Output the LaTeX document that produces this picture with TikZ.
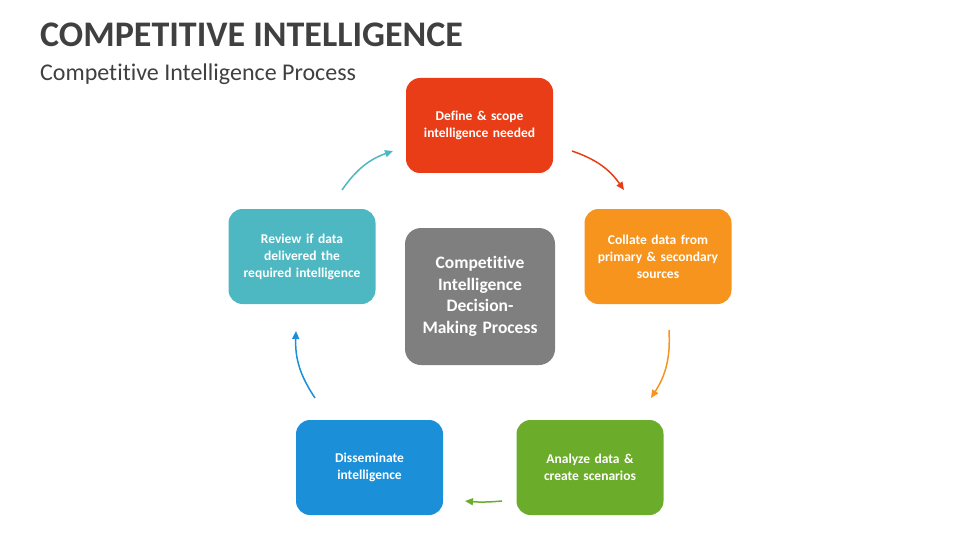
\documentclass[tikz,border=0pt]{standalone}
\usepackage{fontspec}
\setmainfont{Carlito}[Ligatures=NoCommon]
\usetikzlibrary{arrows.meta}
\definecolor{cred}{HTML}{E83D16}
\definecolor{corange}{HTML}{F7941D}
\definecolor{cgreen}{HTML}{6BAD2A}
\definecolor{cblue}{HTML}{1B8FD8}
\definecolor{cteal}{HTML}{4DB8C1}
\definecolor{cgray}{HTML}{7F7F7F}
\definecolor{ctitle}{HTML}{404040}
\tikzset{
  stepbox/.style={rounded corners=14pt, minimum width=147pt, minimum height=95pt, inner sep=0pt,
    align=center, text=white, font=\fontsize{13.5}{17}\selectfont\bfseries, text width=145pt},
  centerbox/.style={rounded corners=16pt, fill=cgray, minimum width=150pt, minimum height=137pt, inner sep=0pt,
    align=center, text=white, font=\fontsize{17.5}{21.5}\selectfont\bfseries, text width=145pt},
  flow/.style={line width=1.5pt, -{Triangle[length=8pt,width=7pt]}, bend left=18}
}
\begin{document}
\begin{tikzpicture}[x=1pt,y=-1pt]
\useasboundingbox (0,0) rectangle (960,540);
\node[anchor=base west, text=ctitle, font=\fontsize{36}{40}\selectfont\bfseries, inner sep=0pt] (title) at (40,47) {COMPETITIVE INTELLIGENCE};
\node[anchor=base west, text=ctitle, font=\fontsize{24}{28}\selectfont, inner sep=0pt] (subtitle) at (40,81) {Competitive Intelligence Process};

\node[stepbox, fill=cred] (define) at (479.5,125.5) {Define \& scope\\intelligence needed};
\node[stepbox, fill=corange] (collate) at (658,256.5) {Collate data from\\primary \& secondary\\sources};
\node[stepbox, fill=cgreen] (analyze) at (590,467.5) {Analyze data \&\\create scenarios};
\node[stepbox, fill=cblue] (dissem) at (369.5,467.5) {Disseminate\\intelligence};
\node[stepbox, fill=cteal] (review) at (302,256.5) {Review if data\\delivered the\\required intelligence};
\node[centerbox] (center) at (480,296.5) {Competitive\\Intelligence\\Decision-\\Making Process};

\coordinate (a1s) at (572,151); \coordinate (a1e) at (624,190);
\coordinate (a2s) at (669,330); \coordinate (a2e) at (651,398);
\coordinate (a3s) at (502,501); \coordinate (a3e) at (465,501);
\coordinate (a4s) at (315,398); \coordinate (a4e) at (296,331);
\coordinate (a5s) at (342,190); \coordinate (a5e) at (393,151);

\draw[flow, cred] (a1s) to (a1e);
\draw[flow, corange] (a2s) to (a2e);
\draw[flow, cgreen, bend left=5] (a3s) to (a3e);
\draw[flow, cblue] (a4s) to (a4e);
\draw[flow, cteal] (a5s) to (a5e);
\end{tikzpicture}
\end{document}
